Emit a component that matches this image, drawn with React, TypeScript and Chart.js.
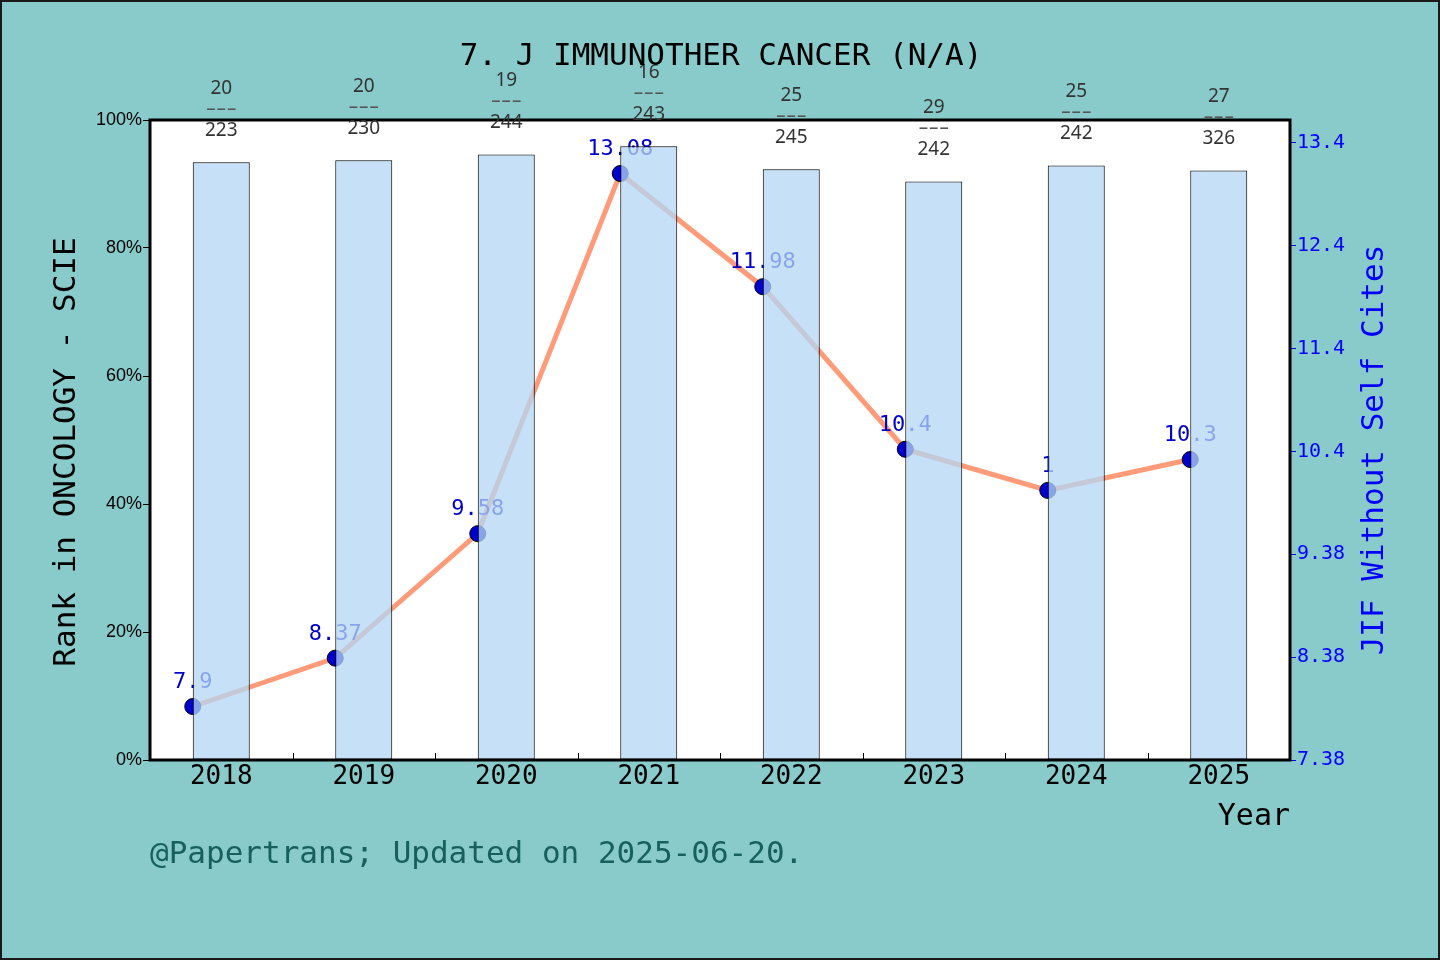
import React, { useEffect, useRef } from 'react';
import { Chart, registerables } from 'chart.js';

Chart.register(...registerables);

// ---- data ----
const years = ['2018', '2019', '2020', '2021', '2022', '2023', '2024', '2025'];
const rankPercent = [93.4, 93.7, 94.6, 95.9, 92.3, 90.4, 92.9, 92.1];
const rankPosition = [20, 20, 19, 16, 25, 29, 25, 27];
const categoryTotal = [223, 230, 244, 243, 245, 242, 242, 326];
const jifWithoutSelf = [7.9, 8.37, 9.58, 13.08, 11.98, 10.4, 10.0, 10.3];
const jifPointLabels = ['7.9', '8.37', '9.58', '13.08', '11.98', '10.4', '1', '10.3'];
const leftTickValues = [0, 20, 40, 60, 80, 100];
const rightTickValues = [7.38, 8.38, 9.38, 10.38, 11.38, 12.38, 13.38];
const rightTickLabels = ['7.38', '8.38', '9.38', '10.4', '11.4', '12.4', '13.4'];
const rightAxisMin = 7.38;
const rightAxisMax = 13.6;

const TITLE = '7. J IMMUNOTHER CANCER (N/A)';
const LEFT_TITLE = 'Rank in ONCOLOGY - SCIE';
const RIGHT_TITLE = 'JIF Without Self Cites';
const X_TITLE = 'Year';
const FOOTER = '@Papertrans; Updated on 2025-06-20.';

// ---- styles ----
const TEAL = '#88cbca';
const MONO = '"DejaVu Sans Mono", "Liberation Mono", monospace';
const BAR_FRACTION = 0.4;
const BAR_FILL = 'rgba(179,214,245,0.76)';
const LINE_COLOR = 'rgb(255,155,120)';
const POINT_COLOR = '#0000cd';
const RIGHT_COLOR = '#0000ff';

const decorPlugin = {
  id: 'decor',
  beforeDraw(chart: any) {
    const { ctx, chartArea: a, width, height } = chart;
    ctx.save();
    ctx.fillStyle = TEAL;
    ctx.fillRect(0, 0, width, height);
    ctx.fillStyle = '#ffffff';
    ctx.fillRect(a.left, a.top, a.right - a.left, a.bottom - a.top);
    ctx.restore();
  },
  afterDatasetDraw(chart: any, args: any) {
    if (args.index !== 1) return;
    const { ctx } = chart;
    ctx.save();
    ctx.font = `22px ${MONO}`;
    ctx.fillStyle = POINT_COLOR;
    ctx.textAlign = 'center';
    ctx.textBaseline = 'middle';
    args.meta.data.forEach((pt: any, i: number) => {
      ctx.fillText(jifPointLabels[i], pt.x, pt.y - 24);
    });
    ctx.restore();
  },
  afterDraw(chart: any) {
    const { ctx, chartArea: a, width, height } = chart;
    ctx.save();

    // inward minor ticks between categories
    const xs = chart.scales.x;
    ctx.strokeStyle = '#000';
    ctx.lineWidth = 1;
    for (let i = 1; i < years.length; i++) {
      const px = Math.round((xs.getPixelForTick(i - 1) + xs.getPixelForTick(i)) / 2) + 0.5;
      ctx.beginPath();
      ctx.moveTo(px, a.bottom);
      ctx.lineTo(px, a.bottom - 7);
      ctx.stroke();
    }

    // plot frame
    ctx.lineWidth = 3;
    ctx.strokeStyle = '#000';
    ctx.strokeRect(a.left, a.top, a.right - a.left, a.bottom - a.top);

    // bar labels (rank / --- / total)
    const barMeta = chart.getDatasetMeta(0);
    ctx.textAlign = 'center';
    ctx.textBaseline = 'middle';
    barMeta.data.forEach((bar: any, i: number) => {
      const x = bar.x;
      const top = bar.y;
      ctx.fillStyle = '#333333';
      ctx.font = '19px "Noto Sans", "Liberation Sans", sans-serif';
      ctx.fillText(String(categoryTotal[i]), x, top - 31.5);
      ctx.fillText(String(rankPosition[i]), x, top - 73.5);
      ctx.save();
      ctx.fillStyle = '#555555';
      ctx.translate(x, top - 52.5);
      ctx.scale(1.7, 1);
      ctx.fillText('---', 0, 0);
      ctx.restore();
    });

    // title
    ctx.fillStyle = '#000';
    ctx.font = `31px ${MONO}`;
    ctx.textAlign = 'center';
    ctx.fillText(TITLE, 721, 57);

    // left axis title
    ctx.save();
    ctx.translate(67, 452);
    ctx.rotate(-Math.PI / 2);
    ctx.fillText(LEFT_TITLE, 0, 0);
    ctx.restore();

    // right axis title
    ctx.save();
    ctx.fillStyle = RIGHT_COLOR;
    ctx.translate(1375, 450);
    ctx.rotate(-Math.PI / 2);
    ctx.fillText(RIGHT_TITLE, 0, 0);
    ctx.restore();

    // x title
    ctx.font = `30px ${MONO}`;
    ctx.textAlign = 'right';
    ctx.fillText(X_TITLE, a.right, 817);

    // footer
    ctx.fillStyle = '#17605e';
    ctx.font = `31px ${MONO}`;
    ctx.textAlign = 'left';
    ctx.fillText(FOOTER, a.left, 855);

    // outer border
    ctx.strokeStyle = '#1a1a1a';
    ctx.lineWidth = 2;
    ctx.strokeRect(1, 1, width - 2, height - 2);
    ctx.restore();
  },
};

export default function App() {
  const ref = useRef<HTMLCanvasElement | null>(null);

  useEffect(() => {
    document.body.style.margin = '0';
    const canvas = ref.current;
    if (!canvas) return;
    const shift = BAR_FRACTION / 2;
    const chart = new Chart(canvas, {
      type: 'bar',
      data: {
        labels: years,
        datasets: [
          {
            type: 'bar',
            label: 'Rank',
            data: rankPercent,
            xAxisID: 'x',
            yAxisID: 'y',
            backgroundColor: BAR_FILL,
            borderColor: '#000',
            borderWidth: 1,
            borderSkipped: false,
            grouped: false,
            barPercentage: BAR_FRACTION,
            categoryPercentage: 1,
            order: 0,
          } as any,
          {
            type: 'line',
            label: 'JIF Without Self Cites',
            data: jifWithoutSelf.map((v, i) => ({ x: i - shift, y: v })),
            xAxisID: 'xl',
            yAxisID: 'yr',
            borderColor: LINE_COLOR,
            borderWidth: 5,
            pointRadius: 8,
            pointHoverRadius: 8,
            pointBackgroundColor: POINT_COLOR,
            pointBorderColor: '#000',
            pointBorderWidth: 1,
            tension: 0,
            fill: false,
            order: 1,
          } as any,
        ],
      },
      options: {
        animation: false,
        responsive: false,
        devicePixelRatio: 1,
        layout: { padding: { top: 120, left: 0, right: 0, bottom: 0 } },
        plugins: {
          legend: { display: false },
          title: { display: false },
          tooltip: { enabled: false },
        },
        scales: {
          x: {
            type: 'category',
            offset: true,
            grid: { display: false, drawTicks: false },
            border: { display: false },
            ticks: { font: { family: MONO, size: 26 }, color: '#000', padding: 2, maxRotation: 0 },
            afterFit: (s: any) => { s.height = 200; },
          },
          xl: {
            type: 'linear',
            display: false,
            offset: false,
            grid: { offset: false },
            min: -0.5,
            max: years.length - 0.5,
          },
          y: {
            type: 'linear',
            position: 'left',
            min: 0,
            max: 100,
            afterBuildTicks: (s: any) => { s.ticks = leftTickValues.map((v) => ({ value: v })); },
            ticks: {
              callback: (v: any) => `${v}%`,
              font: { family: '"Liberation Sans", Arial, sans-serif', size: 18 },
              color: '#000',
              padding: 1,
            },
            grid: { drawOnChartArea: false, tickLength: 7, color: '#000', lineWidth: 1 },
            border: { display: false },
            afterFit: (s: any) => { s.width = 150; },
          },
          yr: {
            type: 'linear',
            position: 'right',
            min: rightAxisMin,
            max: rightAxisMax,
            afterBuildTicks: (s: any) => { s.ticks = rightTickValues.map((v) => ({ value: v })); },
            ticks: {
              callback: (_v: any, i: number) => rightTickLabels[i],
              font: { family: MONO, size: 20 },
              color: RIGHT_COLOR,
              padding: 1,
            },
            grid: { drawOnChartArea: false, tickLength: 6, color: RIGHT_COLOR, lineWidth: 1 },
            border: { display: false },
            afterFit: (s: any) => { s.width = 150; },
          },
        },
      } as any,
      plugins: [decorPlugin],
    });
    return () => chart.destroy();
  }, []);

  return (
    <div style={{ width: 1440, height: 960 }}>
      <canvas ref={ref} width={1440} height={960} style={{ display: 'block' }} />
    </div>
  );
}
